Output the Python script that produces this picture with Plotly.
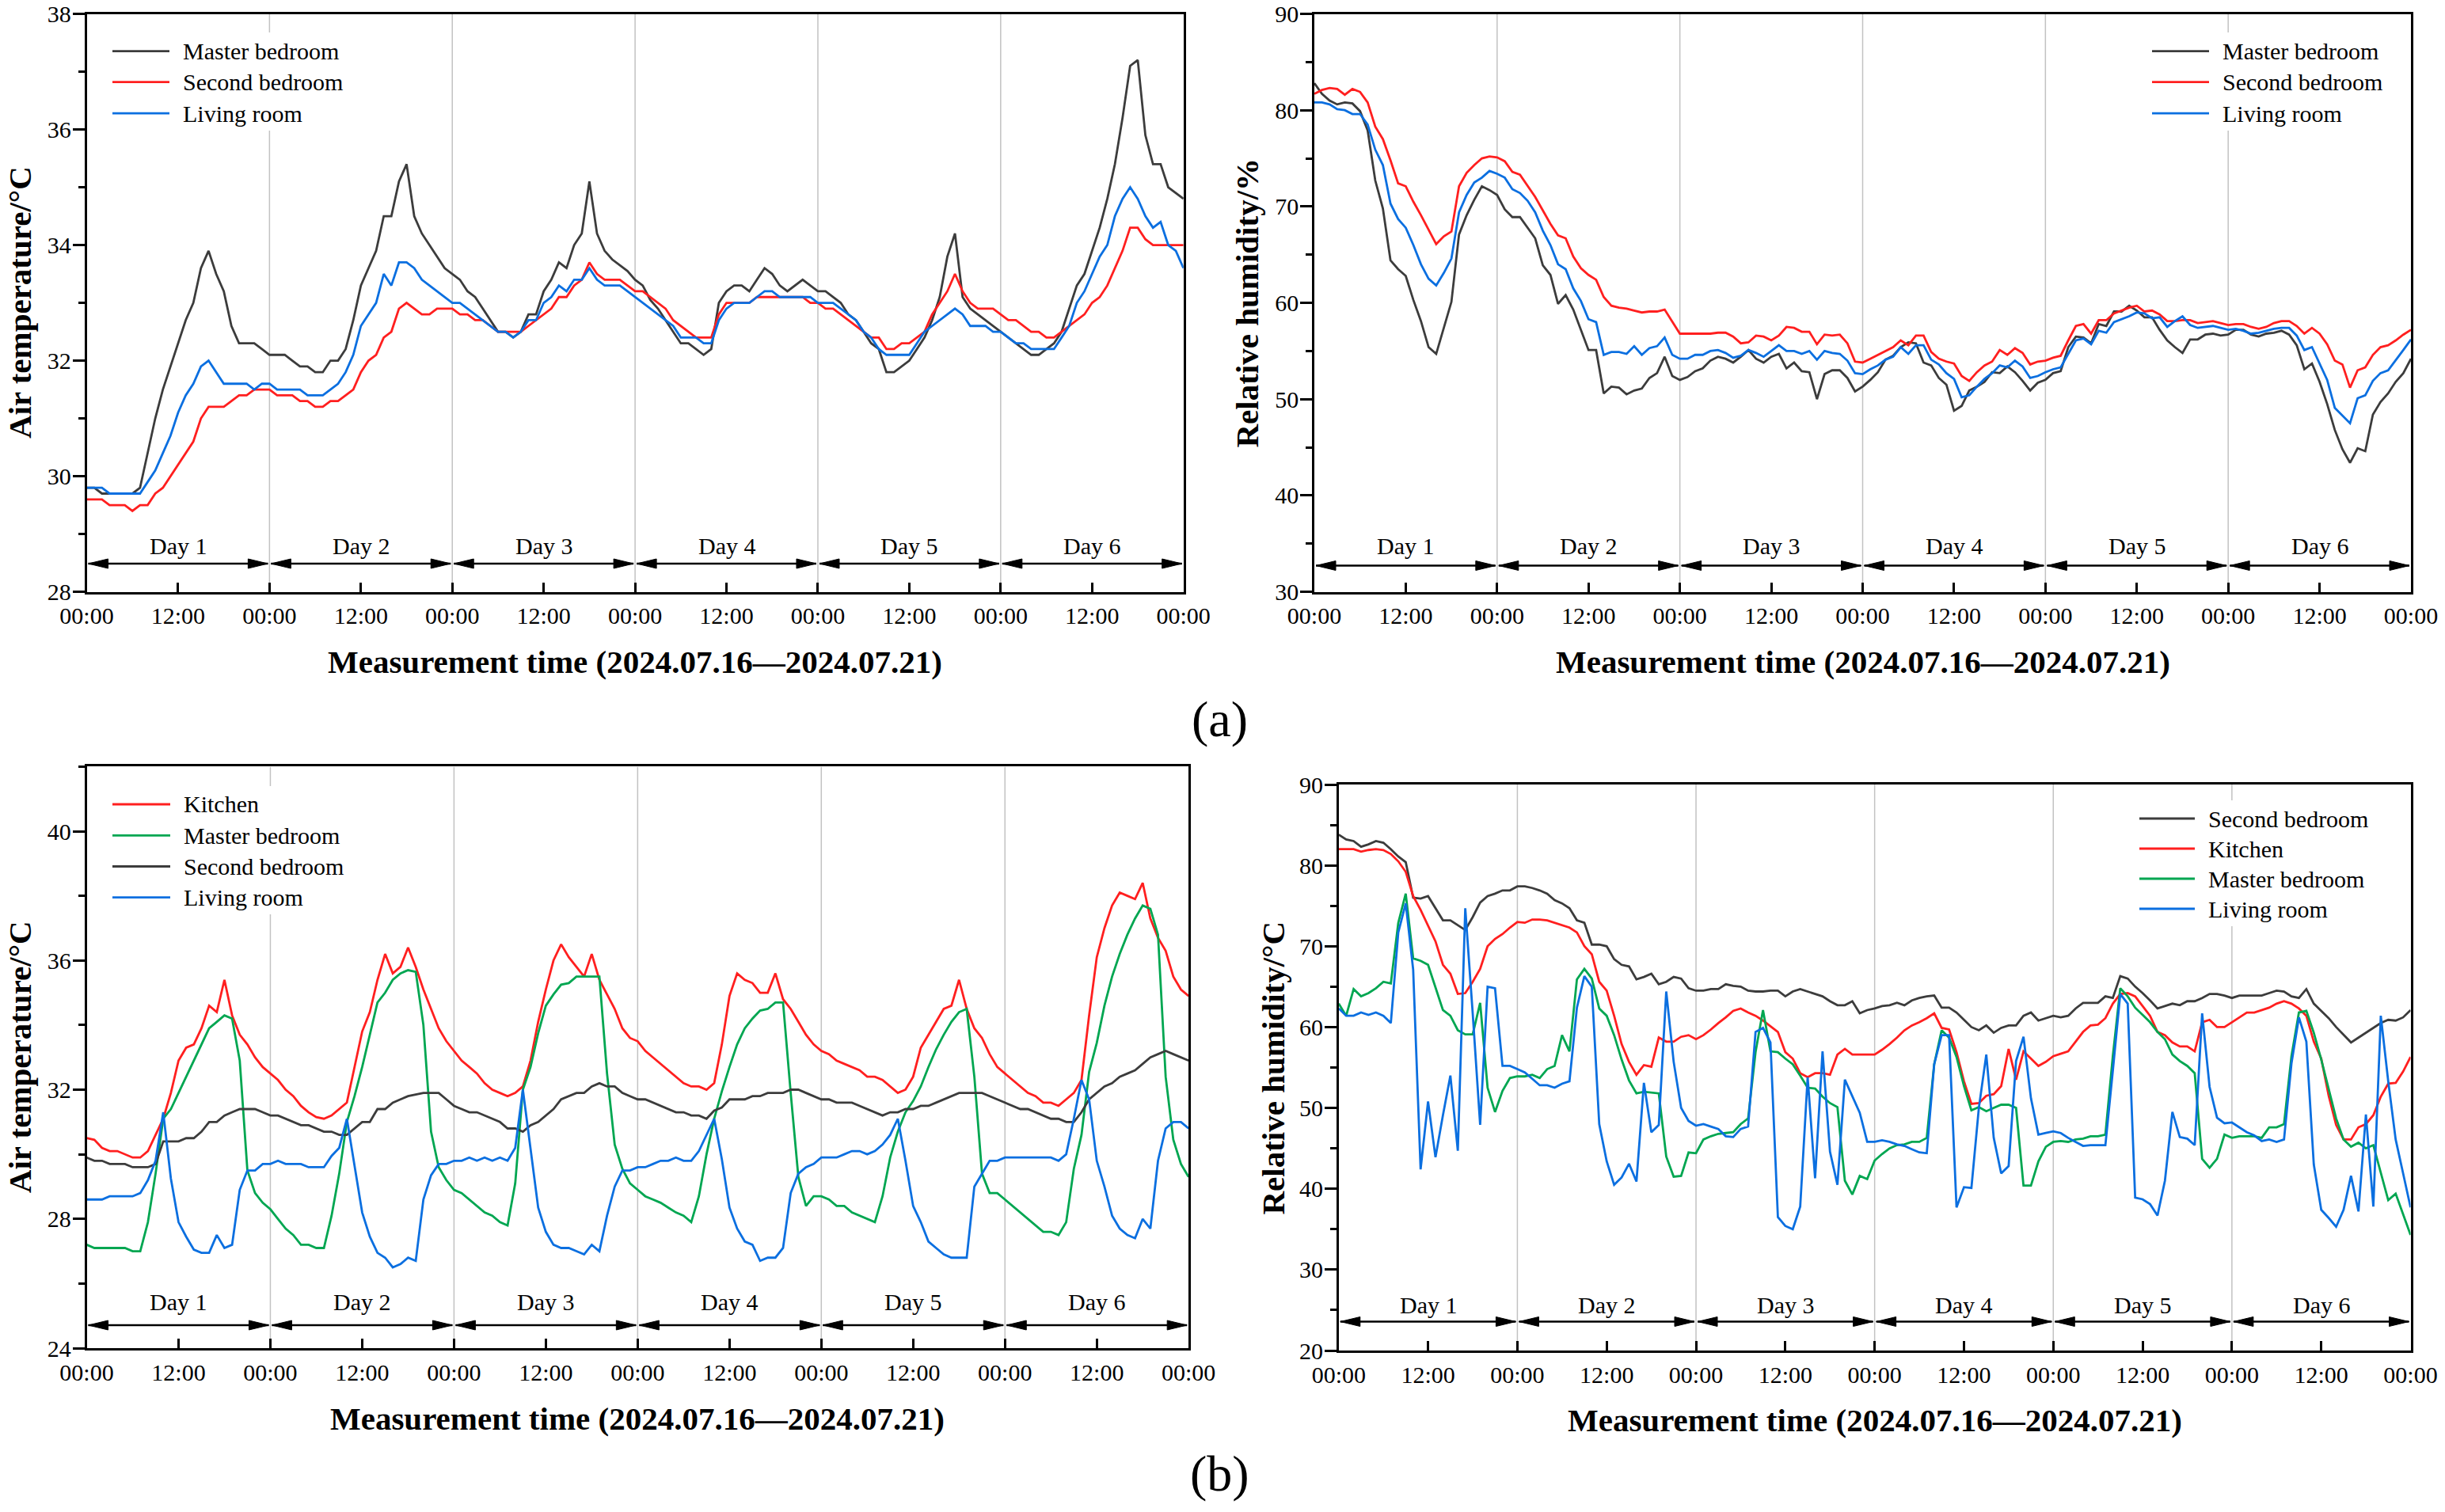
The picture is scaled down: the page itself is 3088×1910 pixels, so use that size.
import plotly.graph_objects as go

W, H = 3088, 1910
HOURS = list(range(145))
XTICKS = list(range(0, 145, 12))
XTICKTEXT = ["00:00" if t % 24 == 0 else "12:00" for t in XTICKS]
DAY_LABELS = ["Day 1", "Day 2", "Day 3", "Day 4", "Day 5", "Day 6"]
DAY_BOUNDS = [0, 24, 48, 72, 96, 120, 144]

# ---------------- (a) air temperature ----------------
temp_a_master = [
    29.8, 29.8, 29.7, 29.7, 29.7, 29.7, 29.7, 29.8, 30.4, 31.0, 31.5, 31.9,
    32.3, 32.7, 33.0, 33.6, 33.9, 33.5, 33.2, 32.6, 32.3, 32.3, 32.3, 32.2,
    32.1, 32.1, 32.1, 32.0, 31.9, 31.9, 31.8, 31.8, 32.0, 32.0, 32.2, 32.7,
    33.3, 33.6, 33.9, 34.5, 34.5, 35.1, 35.4, 34.5, 34.2, 34.0, 33.8, 33.6,
    33.5, 33.4, 33.2, 33.1, 32.9, 32.7, 32.5, 32.5, 32.4, 32.5, 32.8, 32.8,
    33.2, 33.4, 33.7, 33.6, 34.0, 34.2, 35.1, 34.2, 33.9, 33.75, 33.65, 33.55,
    33.4, 33.3, 33.05, 32.9, 32.7, 32.5, 32.3, 32.3, 32.2, 32.1, 32.2, 33.0,
    33.2, 33.3, 33.3, 33.2, 33.4, 33.6, 33.5, 33.3, 33.2, 33.3, 33.4, 33.3,
    33.2, 33.2, 33.1, 33.0, 32.8, 32.7, 32.5, 32.3, 32.2, 31.8, 31.8, 31.9,
    32.0, 32.2, 32.4, 32.7, 33.1, 33.8, 34.2, 33.1, 32.9, 32.8, 32.7, 32.6,
    32.5, 32.4, 32.3, 32.2, 32.1, 32.1, 32.2, 32.3, 32.5, 32.9, 33.3, 33.5,
    33.9, 34.3, 34.8, 35.4, 36.2, 37.1, 37.2, 35.9, 35.4, 35.4, 35.0, 34.9, 34.8]
temp_a_second = [
    29.6, 29.6, 29.6, 29.5, 29.5, 29.5, 29.4, 29.5, 29.5, 29.7, 29.8, 30.0,
    30.2, 30.4, 30.6, 31.0, 31.2, 31.2, 31.2, 31.3, 31.4, 31.4, 31.5, 31.5,
    31.5, 31.4, 31.4, 31.4, 31.3, 31.3, 31.2, 31.2, 31.3, 31.3, 31.4, 31.5,
    31.8, 32.0, 32.1, 32.4, 32.5, 32.9, 33.0, 32.9, 32.8, 32.8, 32.9, 32.9,
    32.9, 32.8, 32.8, 32.7, 32.7, 32.6, 32.5, 32.5, 32.5, 32.5, 32.6, 32.7,
    32.8, 32.9, 33.1, 33.1, 33.3, 33.4, 33.7, 33.5, 33.4, 33.4, 33.4, 33.3,
    33.2, 33.2, 33.1, 33.0, 32.9, 32.7, 32.6, 32.5, 32.4, 32.4, 32.4, 32.8,
    33.0, 33.0, 33.0, 33.0, 33.1, 33.1, 33.1, 33.1, 33.1, 33.1, 33.1, 33.0,
    33.0, 32.9, 32.9, 32.8, 32.7, 32.6, 32.5, 32.4, 32.4, 32.2, 32.2, 32.3,
    32.3, 32.4, 32.5, 32.8, 33.0, 33.2, 33.5, 33.2, 33.0, 32.9, 32.9, 32.9,
    32.8, 32.7, 32.7, 32.6, 32.5, 32.5, 32.4, 32.4, 32.5, 32.6, 32.7, 32.8,
    33.0, 33.1, 33.3, 33.6, 33.9, 34.3, 34.3, 34.1, 34.0, 34.0, 34.0, 34.0, 34.0]
temp_a_living = [
    29.8, 29.8, 29.8, 29.7, 29.7, 29.7, 29.7, 29.7, 29.9, 30.1, 30.4, 30.7,
    31.1, 31.4, 31.6, 31.9, 32.0, 31.8, 31.6, 31.6, 31.6, 31.6, 31.5, 31.6,
    31.6, 31.5, 31.5, 31.5, 31.5, 31.4, 31.4, 31.4, 31.5, 31.6, 31.8, 32.1,
    32.6, 32.8, 33.0, 33.5, 33.3, 33.7, 33.7, 33.6, 33.4, 33.3, 33.2, 33.1,
    33.0, 33.0, 32.9, 32.8, 32.7, 32.6, 32.5, 32.5, 32.4, 32.5, 32.7, 32.7,
    33.0, 33.1, 33.3, 33.2, 33.4, 33.4, 33.6, 33.4, 33.3, 33.3, 33.3, 33.2,
    33.1, 33.0, 32.9, 32.8, 32.7, 32.6, 32.4, 32.4, 32.4, 32.3, 32.3, 32.7,
    32.9, 33.0, 33.0, 33.0, 33.1, 33.2, 33.2, 33.1, 33.1, 33.1, 33.1, 33.1,
    33.0, 33.0, 33.0, 32.9, 32.8, 32.7, 32.5, 32.4, 32.2, 32.1, 32.1, 32.1,
    32.1, 32.3, 32.5, 32.6, 32.7, 32.8, 32.9, 32.8, 32.6, 32.6, 32.6, 32.5,
    32.5, 32.4, 32.3, 32.3, 32.2, 32.2, 32.2, 32.2, 32.4, 32.6, 33.0, 33.2,
    33.5, 33.8, 34.0, 34.5, 34.8, 35.0, 34.8, 34.5, 34.3, 34.4, 34.0, 33.9, 33.6]

# ---------------- (a) relative humidity ----------------
rh_a_master = [
    82.8, 81.7, 81.0, 80.6, 80.8, 80.7, 79.9, 77.9, 72.7, 69.8, 64.4, 63.5,
    62.8, 60.3, 58.1, 55.4, 54.7, 57.4, 60.1, 67.1, 69.1, 70.7, 72.1, 71.7,
    71.2, 69.7, 68.9, 68.9, 67.8, 66.7, 63.9, 62.9, 59.9, 60.8, 59.3, 57.2,
    55.1, 55.1, 50.6, 51.3, 51.2, 50.5, 50.9, 51.1, 52.2, 52.7, 54.4, 52.4,
    52.0, 52.3, 52.9, 53.2, 54.0, 54.4, 54.2, 53.8, 54.4, 55.1, 54.2, 53.8,
    54.4, 54.7, 53.2, 53.8, 52.9, 52.8, 50.0, 52.6, 53.0, 53.0, 52.2, 50.8,
    51.3, 52.0, 52.8, 54.1, 54.5, 55.4, 55.9, 55.8, 53.8, 53.5, 52.2, 51.5,
    48.8, 49.3, 50.9, 51.3, 51.8, 52.8, 52.7, 53.4, 52.8, 51.9, 50.9, 51.7,
    52.0, 52.7, 52.9, 55.4, 56.5, 56.4, 55.8, 57.8, 57.6, 59.1, 59.1, 59.7,
    59.2, 58.5, 58.5, 57.2, 56.1, 55.4, 54.8, 56.2, 56.2, 56.7, 56.8, 56.6,
    56.7, 57.2, 57.2, 56.7, 56.5, 56.8, 56.9, 57.1, 56.7, 55.6, 53.1, 53.7,
    51.8, 49.5, 46.8, 44.8, 43.4, 44.9, 44.6, 48.4, 49.7, 50.6, 51.8, 52.7, 54.2]
rh_a_second = [
    81.7, 82.1, 82.3, 82.2, 81.6, 82.2, 81.9, 80.8, 78.3, 77.0, 74.8, 72.4,
    72.1, 70.5, 69.1, 67.6, 66.1, 66.9, 67.4, 72.1, 73.5, 74.3, 75.0, 75.2,
    75.1, 74.7, 73.6, 73.3, 72.1, 71.0, 69.6, 68.2, 67.0, 66.7, 64.8, 63.6,
    62.9, 62.4, 60.6, 59.7, 59.5, 59.4, 59.2, 59.0, 59.1, 59.1, 59.3, 58.0,
    56.8, 56.8, 56.8, 56.8, 56.8, 56.9, 56.9, 56.5, 55.8, 55.9, 56.6, 56.5,
    56.1, 56.6, 57.5, 57.4, 57.0, 57.0, 55.7, 56.7, 56.6, 56.7, 55.8, 53.9,
    53.8, 54.2, 54.6, 55.0, 55.4, 56.1, 55.6, 56.6, 56.6, 54.9, 54.2, 53.9,
    53.7, 52.4, 51.9, 52.8, 53.5, 53.9, 55.1, 54.6, 55.3, 54.8, 53.6, 53.9,
    54.0, 54.3, 54.5, 56.1, 57.6, 57.8, 56.8, 58.2, 58.2, 58.9, 59.2, 59.5,
    59.7, 59.1, 59.2, 58.8, 58.1, 58.1, 58.2, 58.2, 57.9, 58.0, 58.1, 57.9,
    57.7, 57.8, 57.8, 57.5, 57.3, 57.5, 57.9, 58.1, 58.1, 57.6, 56.8, 57.4,
    56.8, 55.7, 54.0, 53.6, 51.2, 53.0, 53.3, 54.6, 55.4, 55.6, 56.1, 56.7, 57.2]
rh_a_living = [
    80.8, 80.8, 80.6, 80.1, 80.0, 79.6, 79.6, 78.5, 75.9, 74.3, 70.3, 68.7,
    67.8, 66.0, 64.0, 62.5, 61.8, 63.1, 64.6, 69.4, 71.2, 72.5, 73.0, 73.7,
    73.4, 73.0, 71.8, 71.4, 70.6, 69.4, 67.5, 66.0, 64.0, 63.5, 61.5, 60.2,
    58.3, 58.0, 54.6, 54.9, 54.9, 54.7, 55.5, 54.6, 55.3, 55.5, 56.4, 54.6,
    54.2, 54.2, 54.6, 54.6, 55.0, 55.1, 54.8, 54.3, 54.5, 55.1, 54.8, 54.4,
    55.0, 55.6, 55.0, 55.0, 54.7, 55.0, 54.1, 55.0, 54.8, 54.7, 54.0, 52.7,
    52.6, 53.1, 53.5, 54.1, 54.4, 55.4, 54.7, 55.6, 55.6, 54.1, 53.6, 52.7,
    52.1, 50.2, 50.4, 51.3, 52.1, 52.7, 53.5, 53.3, 54.0, 53.4, 52.2, 52.4,
    52.8, 53.1, 53.3, 54.7, 56.1, 56.3, 55.7, 57.1, 56.9, 58.0, 58.3, 58.6,
    59.0, 58.9, 58.4, 58.5, 57.5, 58.1, 58.6, 57.7, 57.4, 57.5, 57.6, 57.4,
    57.2, 57.3, 57.1, 56.8, 56.9, 57.1, 57.3, 57.4, 57.4, 56.6, 55.1, 55.4,
    53.7, 52.0, 49.1, 48.3, 47.5, 50.1, 50.4, 51.9, 52.7, 53.0, 54.0, 55.1, 56.2]

# ---------------- (b) air temperature ----------------
temp_b_kitchen = [
    30.5, 30.45, 30.2, 30.1, 30.1, 30.0, 29.9, 29.9, 30.1, 30.6, 31.1, 31.9,
    32.9, 33.3, 33.4, 33.9, 34.6, 34.4, 35.4, 34.3, 33.7, 33.4, 33.0, 32.7,
    32.5, 32.3, 32.0, 31.8, 31.5, 31.3, 31.15, 31.1, 31.2, 31.4, 31.6, 32.7,
    33.8, 34.4, 35.4, 36.2, 35.6, 35.8, 36.4, 35.8, 35.1, 34.5, 33.9, 33.5,
    33.2, 32.9, 32.7, 32.5, 32.2, 32.0, 31.9, 31.8, 31.9, 32.1, 32.9, 34.1,
    35.1, 36.0, 36.5, 36.1, 35.8, 35.5, 36.2, 35.4, 34.95, 34.5, 33.9, 33.6,
    33.5, 33.2, 33.0, 32.8, 32.6, 32.4, 32.2, 32.1, 32.1, 32.0, 32.2, 33.4,
    34.9, 35.6, 35.4, 35.3, 35.0, 35.0, 35.6, 34.8, 34.5, 34.1, 33.7, 33.4,
    33.2, 33.1, 32.9, 32.8, 32.7, 32.6, 32.4, 32.4, 32.3, 32.1, 31.9, 32.0,
    32.4, 33.3, 33.7, 34.1, 34.5, 34.6, 35.4, 34.5, 33.9, 33.6, 33.1, 32.7,
    32.5, 32.3, 32.1, 31.9, 31.8, 31.6, 31.6, 31.5, 31.7, 31.9, 32.3, 34.3,
    36.1, 37.0, 37.7, 38.1, 38.0, 37.9, 38.4, 37.3, 36.7, 36.3, 35.5, 35.1, 34.9]
temp_b_master = [
    27.2, 27.1, 27.1, 27.1, 27.1, 27.1, 27.0, 27.0, 27.9, 29.4, 31.1, 31.4,
    31.9, 32.4, 32.9, 33.4, 33.9, 34.1, 34.3, 34.2, 32.9, 29.5, 28.8, 28.5,
    28.3, 28.0, 27.7, 27.5, 27.2, 27.2, 27.1, 27.1, 28.1, 29.4, 31.0, 31.8,
    32.7, 33.7, 34.7, 35.0, 35.4, 35.6, 35.7, 35.65, 34.0, 30.7, 29.6, 29.2,
    28.9, 28.8, 28.6, 28.4, 28.2, 28.1, 27.9, 27.8, 29.1, 32.0, 32.7, 33.75,
    34.6, 34.95, 35.25, 35.3, 35.5, 35.5, 35.5, 35.5, 32.5, 30.3, 29.55, 29.1,
    28.9, 28.7, 28.6, 28.5, 28.35, 28.2, 28.1, 27.9, 28.7, 30.0, 31.1, 31.95,
    32.7, 33.4, 33.9, 34.2, 34.45, 34.5, 34.7, 34.7, 31.9, 29.3, 28.4, 28.7,
    28.7, 28.6, 28.4, 28.4, 28.2, 28.1, 28.0, 27.9, 28.7, 29.9, 30.7, 31.3,
    31.65, 32.1, 32.7, 33.25, 33.7, 34.1, 34.4, 34.5, 32.4, 29.4, 28.8, 28.8,
    28.6, 28.4, 28.2, 28.0, 27.8, 27.6, 27.6, 27.5, 27.9, 29.55, 30.6, 32.55,
    33.45, 34.6, 35.5, 36.2, 36.8, 37.3, 37.7, 37.6, 36.8, 32.4, 30.45, 29.7, 29.3]
temp_b_second = [
    29.9, 29.8, 29.8, 29.7, 29.7, 29.7, 29.6, 29.6, 29.6, 29.7, 30.4, 30.4,
    30.4, 30.5, 30.5, 30.7, 31.0, 31.0, 31.2, 31.3, 31.4, 31.4, 31.4, 31.3,
    31.2, 31.2, 31.1, 31.0, 30.9, 30.9, 30.8, 30.7, 30.7, 30.6, 30.6, 30.8,
    31.0, 31.0, 31.4, 31.4, 31.6, 31.7, 31.8, 31.85, 31.9, 31.9, 31.9, 31.7,
    31.5, 31.4, 31.3, 31.3, 31.2, 31.1, 31.0, 30.8, 30.8, 30.7, 30.9, 31.0,
    31.2, 31.4, 31.7, 31.8, 31.9, 31.9, 32.1, 32.2, 32.1, 32.1, 31.9, 31.8,
    31.7, 31.7, 31.6, 31.5, 31.4, 31.3, 31.3, 31.2, 31.2, 31.1, 31.35, 31.45,
    31.7, 31.7, 31.7, 31.8, 31.8, 31.9, 31.9, 31.9, 32.0, 32.0, 31.9, 31.8,
    31.7, 31.7, 31.6, 31.6, 31.6, 31.5, 31.4, 31.3, 31.2, 31.3, 31.3, 31.4,
    31.4, 31.5, 31.5, 31.6, 31.7, 31.8, 31.9, 31.9, 31.9, 31.9, 31.8, 31.7,
    31.6, 31.5, 31.4, 31.4, 31.3, 31.2, 31.1, 31.1, 31.0, 31.0, 31.3, 31.7,
    31.9, 32.1, 32.2, 32.4, 32.5, 32.6, 32.8, 33.0, 33.1, 33.2, 33.1, 33.0, 32.9]
temp_b_living = [
    28.6, 28.6, 28.6, 28.7, 28.7, 28.7, 28.7, 28.8, 29.2, 29.8, 31.3, 29.25,
    27.9, 27.45, 27.05, 26.95, 26.95, 27.5, 27.1, 27.2, 28.9, 29.5, 29.5, 29.7,
    29.7, 29.8, 29.7, 29.7, 29.7, 29.6, 29.6, 29.6, 29.95, 30.2, 31.1, 29.7,
    28.2, 27.45, 26.95, 26.8, 26.5, 26.6, 26.8, 26.7, 28.6, 29.35, 29.7, 29.7,
    29.8, 29.8, 29.9, 29.8, 29.9, 29.8, 29.9, 29.8, 30.2, 32.0, 30.1, 28.35,
    27.6, 27.2, 27.1, 27.1, 27.0, 26.9, 27.2, 27.0, 28.1, 29.0, 29.5, 29.5,
    29.6, 29.6, 29.7, 29.8, 29.8, 29.9, 29.8, 29.8, 30.1, 30.6, 31.1, 29.85,
    28.35, 27.7, 27.3, 27.2, 26.7, 26.8, 26.8, 27.1, 28.8, 29.4, 29.6, 29.7,
    29.9, 29.9, 29.9, 30.0, 30.1, 30.1, 30.0, 30.1, 30.3, 30.6, 31.1, 29.8,
    28.4, 27.9, 27.3, 27.1, 26.9, 26.8, 26.8, 26.8, 29.0, 29.4, 29.8, 29.8,
    29.9, 29.9, 29.9, 29.9, 29.9, 29.9, 29.9, 29.8, 30.0, 31.1, 32.3, 31.7,
    29.8, 29.0, 28.1, 27.7, 27.5, 27.4, 28.0, 27.7, 29.8, 30.8, 31.0, 31.0, 30.8]

# ---------------- (b) relative humidity ----------------
rh_b_second = [
    83.8, 83.2, 83.0, 82.3, 82.6, 83.0, 82.8, 82.0, 81.1, 80.4, 76.0, 75.9,
    76.2, 74.7, 73.2, 73.2, 72.6, 72.0, 73.6, 75.4, 76.2, 76.5, 76.9, 76.9,
    77.4, 77.4, 77.2, 76.9, 76.5, 75.7, 75.3, 74.7, 73.2, 72.9, 70.2, 70.2,
    70.0, 68.4, 67.7, 67.5, 65.9, 66.2, 66.6, 65.3, 65.6, 66.2, 66.0, 64.8,
    64.5, 64.5, 64.7, 64.7, 65.3, 65.1, 65.0, 64.5, 64.4, 64.4, 64.5, 64.5,
    63.8, 64.4, 64.7, 64.4, 64.1, 63.8, 63.2, 62.7, 62.7, 63.2, 61.7, 62.1,
    62.3, 62.6, 62.7, 63.0, 62.7, 63.3, 63.6, 63.8, 63.9, 62.4, 62.4, 61.8,
    60.9, 60.0, 59.6, 60.2, 59.3, 59.9, 60.2, 60.2, 61.4, 61.8, 60.8, 61.1,
    61.4, 61.2, 61.4, 62.3, 63.0, 63.0, 63.0, 63.8, 63.6, 66.3, 66.0, 65.0,
    64.2, 63.3, 62.3, 62.6, 62.9, 62.7, 63.2, 63.2, 63.6, 64.1, 64.1, 63.9,
    63.6, 63.9, 63.9, 63.9, 63.9, 64.2, 64.5, 64.4, 63.8, 63.6, 64.7, 62.9,
    62.0, 61.1, 60.0, 59.1, 58.1, 58.7, 59.3, 59.9, 60.5, 60.9, 60.8, 61.2, 62.1]
rh_b_kitchen = [
    82.0, 82.0, 82.0, 81.7, 81.9, 82.0, 81.9, 81.4, 80.5, 79.2, 76.2, 74.5,
    72.6, 70.6, 67.7, 66.6, 64.1, 64.2, 65.6, 67.2, 70.0, 70.9, 71.5, 72.3,
    73.0, 72.9, 73.3, 73.3, 73.2, 72.9, 72.6, 72.3, 71.7, 70.0, 69.0, 65.6,
    64.5, 61.4, 57.9, 55.7, 54.1, 55.3, 55.1, 58.7, 58.2, 58.2, 58.8, 59.0,
    58.5, 59.0, 59.7, 60.5, 61.2, 62.0, 62.3, 61.8, 61.4, 60.8, 60.1, 59.4,
    56.9, 56.1, 54.3, 53.8, 54.3, 54.3, 54.1, 56.6, 57.3, 56.6, 56.6, 56.6,
    56.6, 57.2, 57.9, 58.7, 59.6, 60.2, 60.6, 61.1, 61.7, 59.9, 59.7, 56.9,
    53.3, 50.5, 50.6, 51.5, 51.7, 52.7, 57.3, 53.5, 57.0, 56.1, 55.2, 55.7,
    56.4, 56.7, 57.0, 58.2, 59.4, 60.2, 60.3, 61.1, 62.9, 64.1, 64.2, 63.8,
    62.6, 61.4, 59.4, 59.0, 58.1, 57.6, 57.6, 57.0, 60.6, 60.9, 60.0, 60.0,
    60.6, 61.2, 61.8, 61.8, 62.1, 62.4, 62.9, 63.2, 62.9, 62.3, 61.4, 58.2,
    56.1, 51.5, 47.9, 46.1, 46.1, 47.6, 48.0, 49.1, 51.4, 53.0, 53.1, 54.5, 56.3]
rh_b_master = [
    62.9, 61.4, 64.7, 63.8, 64.2, 64.8, 65.6, 65.4, 72.9, 76.5, 68.5, 68.2,
    67.7, 64.8, 62.1, 61.4, 59.6, 59.1, 59.1, 63.0, 52.5, 49.5, 52.1, 53.7,
    53.9, 53.9, 54.1, 53.7, 54.8, 55.2, 59.0, 57.0, 65.9, 67.2, 66.0, 62.3,
    61.4, 59.0, 56.0, 53.4, 51.8, 52.0, 51.9, 51.8, 44.0, 41.5, 41.6, 44.5,
    44.4, 46.1, 46.5, 46.8, 46.9, 47.0, 48.0, 48.7, 56.9, 62.1, 57.0, 56.9,
    56.1, 55.4, 54.0, 52.5, 52.4, 51.4, 50.6, 50.1, 41.0, 39.3, 41.6, 41.2,
    43.5, 44.3, 45.0, 45.4, 45.5, 45.8, 45.8, 46.3, 55.4, 59.6, 58.7, 56.3,
    52.7, 49.7, 50.1, 49.6, 50.0, 50.4, 50.4, 50.0, 40.4, 40.4, 43.4, 45.2,
    45.8, 45.9, 45.8, 46.1, 46.2, 46.5, 46.5, 46.7, 56.4, 64.8, 63.8, 62.4,
    61.5, 60.6, 59.4, 58.5, 56.6, 55.8, 55.2, 54.3, 43.7, 42.6, 43.7, 46.7,
    46.3, 46.5, 46.5, 46.5, 46.3, 47.6, 47.6, 48.0, 56.4, 61.8, 62.0, 59.3,
    56.0, 52.4, 48.7, 46.1, 45.2, 45.7, 45.0, 45.4, 41.9, 38.6, 39.4, 36.8, 34.3]
rh_b_living = [
    62.3, 61.4, 61.4, 61.8, 61.5, 61.8, 61.4, 60.5, 71.7, 75.3, 67.1, 42.4,
    50.8, 43.9, 49.1, 54.0, 44.7, 74.7, 61.7, 47.9, 65.0, 64.8, 55.2, 55.2,
    54.8, 54.4, 53.6, 52.8, 52.8, 52.5, 53.0, 53.3, 62.4, 66.3, 65.0, 48.0,
    43.4, 40.5, 41.4, 43.1, 40.9, 53.1, 47.0, 47.9, 64.4, 55.7, 50.0, 48.4,
    47.8, 48.0, 47.7, 47.4, 46.5, 46.4, 47.4, 47.7, 59.4, 59.9, 58.1, 36.5,
    35.4, 35.0, 37.8, 53.8, 41.3, 57.0, 44.6, 40.5, 53.5, 51.5, 49.4, 45.8,
    45.8, 46.0, 45.8, 45.5, 45.3, 44.9, 44.5, 44.4, 55.4, 59.0, 59.0, 37.7,
    40.2, 40.1, 50.0, 56.6, 46.3, 41.9, 42.8, 55.8, 58.8, 51.2, 46.7, 46.9,
    47.1, 46.9, 46.3, 45.8, 45.3, 45.4, 45.4, 45.4, 54.6, 64.1, 62.9, 38.9,
    38.7, 38.1, 36.7, 41.0, 49.5, 46.4, 46.2, 45.4, 61.7, 52.6, 48.8, 48.1,
    48.2, 47.6, 47.0, 46.6, 45.9, 46.1, 45.8, 46.1, 55.5, 61.2, 58.2, 43.0,
    37.4, 36.4, 35.3, 37.4, 41.6, 37.2, 49.2, 37.8, 61.4, 53.3, 46.1, 41.9, 37.7]

FONT = "Liberation Serif"
C_DARK = "#3c3c3c"
C_RED = "#ff1f1f"
C_BLUE = "#0b6fe0"
C_GREEN = "#00a651"
C_GRID = "#c2c2c2"
XTITLE = "<b>Measurement time (2024.07.16\u20142024.07.21)</b>"

panels = [
    dict(box=(109.5, 1494.7, 17.5, 747.6), yr=(28, 38), dtick=2, mdt=1,
         series=[("Master bedroom", temp_a_master, C_DARK),
                 ("Second bedroom", temp_a_second, C_RED),
                 ("Living room", temp_a_living, C_BLUE)],
         ytitle="<b>Air temperature/\u00b0C</b>", ytx=24.5, xtitle_y=836,
         leg_line=(142, 214), leg_tx=229, leg_ys=[64.7, 103.7, 143.2],
         leg_box=(125, 460, 41, 165), day_ty=690, arrow_py=712),
    dict(box=(1660, 3045, 17.5, 747.6), yr=(30, 90), dtick=10, mdt=5,
         series=[("Master bedroom", rh_a_master, C_DARK),
                 ("Second bedroom", rh_a_second, C_RED),
                 ("Living room", rh_a_living, C_BLUE)],
         ytitle="<b>Relative humidity/%</b>", ytx=1575, xtitle_y=836,
         leg_line=(2718, 2790), leg_tx=2805, leg_ys=[64.7, 103.7, 143.2],
         leg_box=(2700, 3030, 41, 165), day_ty=690, arrow_py=714.5),
    dict(box=(109.5, 1501.2, 968.4, 1703), yr=(24, 42), dtick=4, mdt=2,
         series=[("Kitchen", temp_b_kitchen, C_RED),
                 ("Master bedroom", temp_b_master, C_GREEN),
                 ("Second bedroom", temp_b_second, C_DARK),
                 ("Living room", temp_b_living, C_BLUE)],
         ytitle="<b>Air temperature/\u00b0C</b>", ytx=24.5, xtitle_y=1792,
         leg_line=(142, 215), leg_tx=230, leg_ys=[1016, 1055.3, 1094.5, 1133.7],
         leg_box=(125, 460, 993, 1155), day_ty=1644, arrow_py=1674),
    dict(box=(1690.8, 3044.5, 991, 1706), yr=(20, 90), dtick=10, mdt=5,
         series=[("Second bedroom", rh_b_second, C_DARK),
                 ("Kitchen", rh_b_kitchen, C_RED),
                 ("Master bedroom", rh_b_master, C_GREEN),
                 ("Living room", rh_b_living, C_BLUE)],
         ytitle="<b>Relative humidity/\u00b0C</b>", ytx=1607, xtitle_y=1794,
         leg_line=(2702, 2772), leg_tx=2787, leg_ys=[1034, 1072, 1110, 1148],
         leg_box=(2690, 3030, 1011, 1170), day_ty=1648, arrow_py=1669.5),
]

for p in panels:
    for name, vals, _ in p["series"]:
        assert len(vals) == 145, (name, len(vals))

fig = go.Figure()
shapes = []
annotations = []
layout_axes = {}

for i, p in enumerate(panels, start=1):
    L, R, T, B = p["box"]
    y0, y1 = p["yr"]
    xr = "x" if i == 1 else f"x{i}"
    yr = "y" if i == 1 else f"y{i}"
    xname = "xaxis" if i == 1 else f"xaxis{i}"
    yname = "yaxis" if i == 1 else f"yaxis{i}"

    def px2x(px, L=L, R=R):
        return (px - L) / (R - L) * 144.0

    def py2y(py, T=T, B=B, y0=y0, y1=y1):
        return y0 + (B - py) / (B - T) * (y1 - y0)

    for name, vals, color in p["series"]:
        fig.add_trace(go.Scatter(x=HOURS, y=vals, mode="lines", name=name,
                                 line=dict(color=color, width=2.8),
                                 xaxis=xr, yaxis=yr, showlegend=False))

    layout_axes[xname] = dict(
        domain=[L / W, R / W], anchor=yr, range=[0, 144], automargin=False,
        tickmode="array", tickvals=XTICKS, ticktext=XTICKTEXT,
        ticks="inside", ticklen=12, tickwidth=2.5, tickcolor="black",
        showline=True, linewidth=2.5, linecolor="black", mirror=True,
        showgrid=False, zeroline=False, ticklabelstandoff=2,
        tickfont=dict(family=FONT, size=30, color="black"))
    layout_axes[yname] = dict(
        domain=[1 - B / H, 1 - T / H], anchor=xr, range=[y0, y1], automargin=False,
        tick0=y0, dtick=p["dtick"],
        ticks="outside", ticklen=15, tickwidth=2.5, tickcolor="black",
        minor=dict(dtick=p["mdt"], tick0=y0, ticks="outside", ticklen=8,
                   tickwidth=2.5, tickcolor="black", showgrid=False),
        showline=True, linewidth=2.5, linecolor="black", mirror=True,
        showgrid=False, zeroline=False, ticklabelstandoff=-4,
        tickfont=dict(family=FONT, size=30, color="black"))

    # day boundary lines
    for d in DAY_BOUNDS[1:-1]:
        shapes.append(dict(type="line", xref=xr, yref=yr, x0=d, x1=d, y0=y0, y1=y1,
                           line=dict(color=C_GRID, width=1.5), layer="below"))
    # legend background
    bx0, bx1, by0, by1 = p["leg_box"]
    shapes.append(dict(type="rect", xref=xr, yref=yr,
                       x0=px2x(bx0), x1=px2x(bx1), y0=py2y(by1), y1=py2y(by0),
                       fillcolor="white", line=dict(width=0), layer="below"))
    # legend samples and labels
    lx0, lx1 = p["leg_line"]
    for (name, _, color), ly in zip(p["series"], p["leg_ys"]):
        shapes.append(dict(type="line", xref="paper", yref="paper",
                           x0=lx0 / W, x1=lx1 / W, y0=1 - ly / H, y1=1 - ly / H,
                           line=dict(color=color, width=2.8), layer="above"))
        annotations.append(dict(text=name, xref="paper", yref="paper",
                                x=p["leg_tx"] / W, y=1 - ly / H, xanchor="left",
                                yanchor="middle", showarrow=False,
                                font=dict(family=FONT, size=30, color="black")))
    # day arrows
    ya = py2y(p["arrow_py"])
    gap = 2.0 / ((R - L) / 144.0)
    for k in range(6):
        a0, a1 = DAY_BOUNDS[k], DAY_BOUNDS[k + 1]
        shapes.append(dict(type="line", xref=xr, yref=yr, x0=a0 + gap, x1=a1 - gap,
                           y0=ya, y1=ya, line=dict(color="black", width=2.5),
                           layer="above"))
        shapes.append(dict(type="path", xref=xr, yref=yr, xsizemode="pixel",
                           ysizemode="pixel", xanchor=a0, yanchor=ya,
                           path="M2,0 L27,6 L27,-6 Z", fillcolor="black",
                           line=dict(color="black", width=1), layer="above"))
        shapes.append(dict(type="path", xref=xr, yref=yr, xsizemode="pixel",
                           ysizemode="pixel", xanchor=a1, yanchor=ya,
                           path="M-2,0 L-27,6 L-27,-6 Z", fillcolor="black",
                           line=dict(color="black", width=1), layer="above"))
        annotations.append(dict(text=DAY_LABELS[k], xref=xr, yref=yr,
                                x=(a0 + a1) / 2, y=py2y(p["day_ty"]),
                                showarrow=False, xanchor="center", yanchor="middle",
                                font=dict(family=FONT, size=30, color="black")))
    # axis titles
    annotations.append(dict(text=p["ytitle"], xref="paper", yref="paper",
                            x=p["ytx"] / W, y=1 - ((T + B) / 2) / H, textangle=-90,
                            showarrow=False, xanchor="center", yanchor="middle",
                            font=dict(family=FONT, size=41, color="black")))
    annotations.append(dict(text=XTITLE, xref="paper", yref="paper",
                            x=((L + R) / 2) / W, y=1 - p["xtitle_y"] / H,
                            showarrow=False, xanchor="center", yanchor="middle",
                            font=dict(family=FONT, size=41, color="black")))

for lbl, py in (("(a)", 908), ("(b)", 1861)):
    annotations.append(dict(text=lbl, xref="paper", yref="paper",
                            x=1540 / W, y=1 - py / H, showarrow=False,
                            xanchor="center", yanchor="middle",
                            font=dict(family=FONT, size=64, color="black")))

fig.update_layout(width=W, height=H,
                  margin=dict(l=0, r=0, t=0, b=0, pad=0, autoexpand=False),
                  paper_bgcolor="white", plot_bgcolor="white",
                  showlegend=False, shapes=shapes, annotations=annotations,
                  font=dict(family=FONT, color="black"), **layout_axes)

fig.write_html("out.html")
